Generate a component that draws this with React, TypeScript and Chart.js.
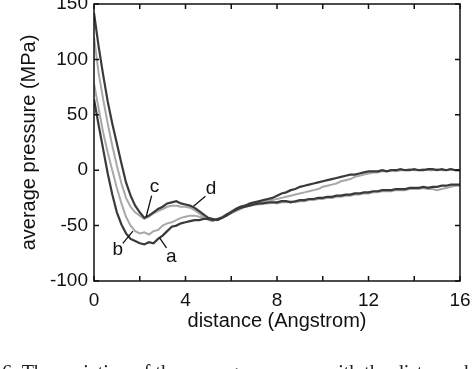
import React, { useEffect, useRef } from "react";
import { Chart, registerables } from "chart.js";

Chart.register(...registerables);

// distance (Angstrom)
const DISTANCE = [
  0, 0.2, 0.4, 0.6, 0.8, 1.0, 1.2, 1.4, 1.6, 1.8,
  2.0, 2.2, 2.4, 2.6, 2.8, 3.0, 3.2, 3.4, 3.6, 3.8,
  4.0, 4.2, 4.4, 4.6, 4.8, 5.0, 5.2, 5.4, 5.6, 5.8,
  6.0, 6.2, 6.4, 6.6, 6.8, 7.0, 7.2, 7.4, 7.6, 7.8,
  8.0, 8.2, 8.4, 8.6, 8.8, 9.0, 9.2, 9.4, 9.6, 9.8,
  10.0, 10.2, 10.4, 10.6, 10.8, 11.0, 11.2, 11.4, 11.6, 11.8,
  12.0, 12.2, 12.4, 12.6, 12.8, 13.0, 13.2, 13.4, 13.6, 13.8,
  14.0, 14.2, 14.4, 14.6, 14.8, 15.0, 15.2, 15.4, 15.6, 15.8, 16.0,
];

// average pressure (MPa)
const CURVE_A = [
  64, 41, 19, -3, -22, -38, -49, -57, -62, -64,
  -66, -67, -65, -66, -62, -59, -55, -51, -50, -48,
  -47, -46, -45, -45, -44, -44, -45, -44, -43, -40,
  -38, -36, -34, -33, -32, -31, -30, -30, -29, -29,
  -29, -28, -28, -29, -28, -27, -27, -26, -26, -25,
  -25, -24, -24, -23, -23, -22, -22, -21, -21, -20,
  -20, -19, -19, -18, -18, -18, -17, -17, -17, -16,
  -16, -16, -15, -16, -15, -15, -14, -14, -13, -13, -13,
];
const CURVE_B = [
  78, 56, 34, 16, 0, -16, -30, -42, -50, -55,
  -57, -56, -58, -55, -54, -50, -48, -47, -45, -43,
  -42, -41, -41, -42, -43, -44, -45, -45, -43, -41,
  -39, -37, -35, -33, -32, -31, -31, -30, -30, -29,
  -30, -29, -29, -28, -29, -28, -28, -27, -27, -26,
  -26, -25, -25, -24, -24, -23, -23, -22, -22, -21,
  -21, -20, -20, -19, -19, -19, -18, -18, -18, -17,
  -17, -17, -16, -17, -17, -18, -17, -16, -15, -14, -14,
];
const CURVE_C = [
  142, 112, 86, 62, 42, 24, 6, -11, -23, -32,
  -38, -43, -41, -38, -35, -33, -30, -29, -28, -30,
  -31, -32, -34, -37, -40, -43, -44, -45, -43, -41,
  -38, -35, -33, -32, -30, -29, -28, -27, -26, -25,
  -23, -21, -20, -18, -17, -15, -14, -13, -12, -11,
  -10, -9, -8, -7, -6, -5, -4, -4, -3, -2,
  -1, -1, -1, 0, -1, 0, 0, 1, 0, 0,
  1, 0, 0, 1, 1, 0, 1, 0, 1, 0, 0,
];
const CURVE_D = [
  120, 88, 64, 42, 22, 4, -12, -25, -33, -38,
  -41, -44, -42, -39, -37, -35, -33, -32, -32, -33,
  -33, -34, -36, -39, -42, -45, -46, -44, -42, -40,
  -37, -35, -33, -32, -31, -30, -29, -28, -27, -27,
  -26, -25, -24, -23, -22, -21, -20, -19, -18, -17,
  -15, -14, -13, -12, -10, -9, -8, -6, -5, -4,
  -3, -2, -2, -1, -1, 0, -1, 0, 0, 1,
  0, 0, 1, 0, 0, 1, 0, 0, 1, 0, 0,
];

const X_MINOR_TICKS = [0, 2, 4, 6, 8, 10, 12, 14, 16];
const X_LABELED_TICKS = [0, 4, 8, 12, 16];
const Y_TICKS = [-100, -50, 0, 50, 100, 150];

const X_TITLE = "distance (Angstrom)";
const Y_TITLE = "average pressure (MPa)";
const CAPTION = "6.  The variation of the average pressure with the distance between the";

// curve labels: text position and pointer line (data coordinates)
const CURVE_LABELS = [
  { text: "a", tx: 3.38, ty: -78, x1: 3.17, y1: -70, x2: 2.87, y2: -61 },
  { text: "b", tx: 1.04, ty: -72, x1: 1.26, y1: -66, x2: 1.7, y2: -55 },
  { text: "c", tx: 2.65, ty: -15, x1: 2.52, y1: -23, x2: 2.28, y2: -42 },
  { text: "d", tx: 5.12, ty: -16.5, x1: 4.87, y1: -23.5, x2: 4.35, y2: -32.5 },
];

const DARK = "#3a3a3a";
const LIGHT = "#a8a8a8";
const FONT = '"Liberation Sans", Arial, sans-serif';

const framePlugin = {
  id: "frame",
  afterDatasetsDraw(chart: any) {
    const { ctx, chartArea, scales } = chart;
    const { left, right, top, bottom } = chartArea;
    const x = scales.x;
    const y = scales.y;
    ctx.save();
    ctx.strokeStyle = "#111";
    ctx.lineWidth = 1.5;
    ctx.strokeRect(left, top, right - left, bottom - top);
    const tl = 5;
    ctx.beginPath();
    X_MINOR_TICKS.forEach((v) => {
      const px = x.getPixelForValue(v);
      ctx.moveTo(px, bottom);
      ctx.lineTo(px, bottom - tl);
      ctx.moveTo(px, top);
      ctx.lineTo(px, top + tl);
    });
    Y_TICKS.forEach((v) => {
      const py = y.getPixelForValue(v);
      ctx.moveTo(left, py);
      ctx.lineTo(left + tl, py);
      ctx.moveTo(right, py);
      ctx.lineTo(right - tl, py);
    });
    ctx.stroke();

    // curve labels
    ctx.font = "19px " + FONT;
    ctx.fillStyle = "#111";
    ctx.textAlign = "center";
    ctx.textBaseline = "middle";
    ctx.lineWidth = 1.3;
    CURVE_LABELS.forEach((l) => {
      ctx.fillText(l.text, x.getPixelForValue(l.tx), y.getPixelForValue(l.ty));
      ctx.beginPath();
      ctx.moveTo(x.getPixelForValue(l.x1), y.getPixelForValue(l.y1));
      ctx.lineTo(x.getPixelForValue(l.x2), y.getPixelForValue(l.y2));
      ctx.stroke();
    });

    // axis titles
    ctx.font = "20px " + FONT;
    ctx.textAlign = "center";
    ctx.textBaseline = "alphabetic";
    ctx.fillText(X_TITLE, (left + right) / 2, 327);
    ctx.save();
    ctx.translate(35, (top + bottom) / 2);
    ctx.rotate(-Math.PI / 2);
    ctx.fillText(Y_TITLE, 0, 0);
    ctx.restore();
    ctx.restore();
  },
};

const zeroPad = (s: any) => {
  s.paddingTop = 0;
  s.paddingBottom = 0;
  s.paddingLeft = 0;
  s.paddingRight = 0;
};

export default function App() {
  const ref = useRef<HTMLCanvasElement | null>(null);
  useEffect(() => {
    if (!ref.current) return;
    const mk = (vals: number[], color: string, width: number, order: number, label: string) => ({
      label,
      data: DISTANCE.map((d, i) => ({ x: d, y: vals[i] })),
      borderColor: color,
      backgroundColor: color,
      borderWidth: width,
      pointRadius: 0,
      tension: 0,
      fill: false,
      order,
    });
    const chart = new Chart(ref.current, {
      type: "line",
      data: {
        datasets: [
          mk(CURVE_A, DARK, 2.2, 1, "a"),
          mk(CURVE_B, LIGHT, 2, 2, "b"),
          mk(CURVE_C, DARK, 2.2, 1, "c"),
          mk(CURVE_D, LIGHT, 2, 2, "d"),
        ],
      },
      options: {
        animation: false,
        responsive: false,
        events: [],
        layout: { autoPadding: false, padding: { left: 0, top: 4, right: 14, bottom: 0 } },
        plugins: { legend: { display: false }, tooltip: { enabled: false } },
        scales: {
          x: {
            type: "linear",
            min: 0,
            max: 16,
            grid: { display: false, drawTicks: false },
            border: { display: false },
            afterFit: (s: any) => {
              s.height = 88;
              zeroPad(s);
            },
            afterBuildTicks: (s: any) => {
              s.ticks = X_LABELED_TICKS.map((v) => ({ value: v }));
            },
            ticks: {
              autoSkip: false,
              maxRotation: 0,
              padding: 8,
              color: "#111",
              font: { family: FONT, size: 19 },
            },
          },
          y: {
            type: "linear",
            min: -100,
            max: 150,
            grid: { display: false, drawTicks: false },
            border: { display: false },
            afterFit: (s: any) => {
              s.width = 94;
              zeroPad(s);
            },
            afterBuildTicks: (s: any) => {
              s.ticks = Y_TICKS.map((v) => ({ value: v }));
            },
            ticks: {
              autoSkip: false,
              padding: 6,
              color: "#111",
              font: { family: FONT, size: 19 },
            },
          },
        },
      },
      plugins: [framePlugin],
    } as any);
    return () => chart.destroy();
  }, []);

  return (
    <div
      style={{
        position: "fixed",
        left: 0,
        top: 0,
        width: 474,
        height: 369,
        overflow: "hidden",
        background: "#fff",
      }}
    >
      <canvas ref={ref} width={474} height={369} style={{ display: "block" }} />
      <div
        style={{
          position: "absolute",
          left: 0,
          top: 364,
          width: 474,
          height: 5,
          overflow: "hidden",
        }}
      >
        <div
          style={{
            position: "relative",
            top: -2,
            left: 2,
            whiteSpace: "nowrap",
            font: '20px/20px "Liberation Serif", serif',
            color: "#222",
          }}
        >
          {CAPTION}
        </div>
      </div>
    </div>
  );
}
